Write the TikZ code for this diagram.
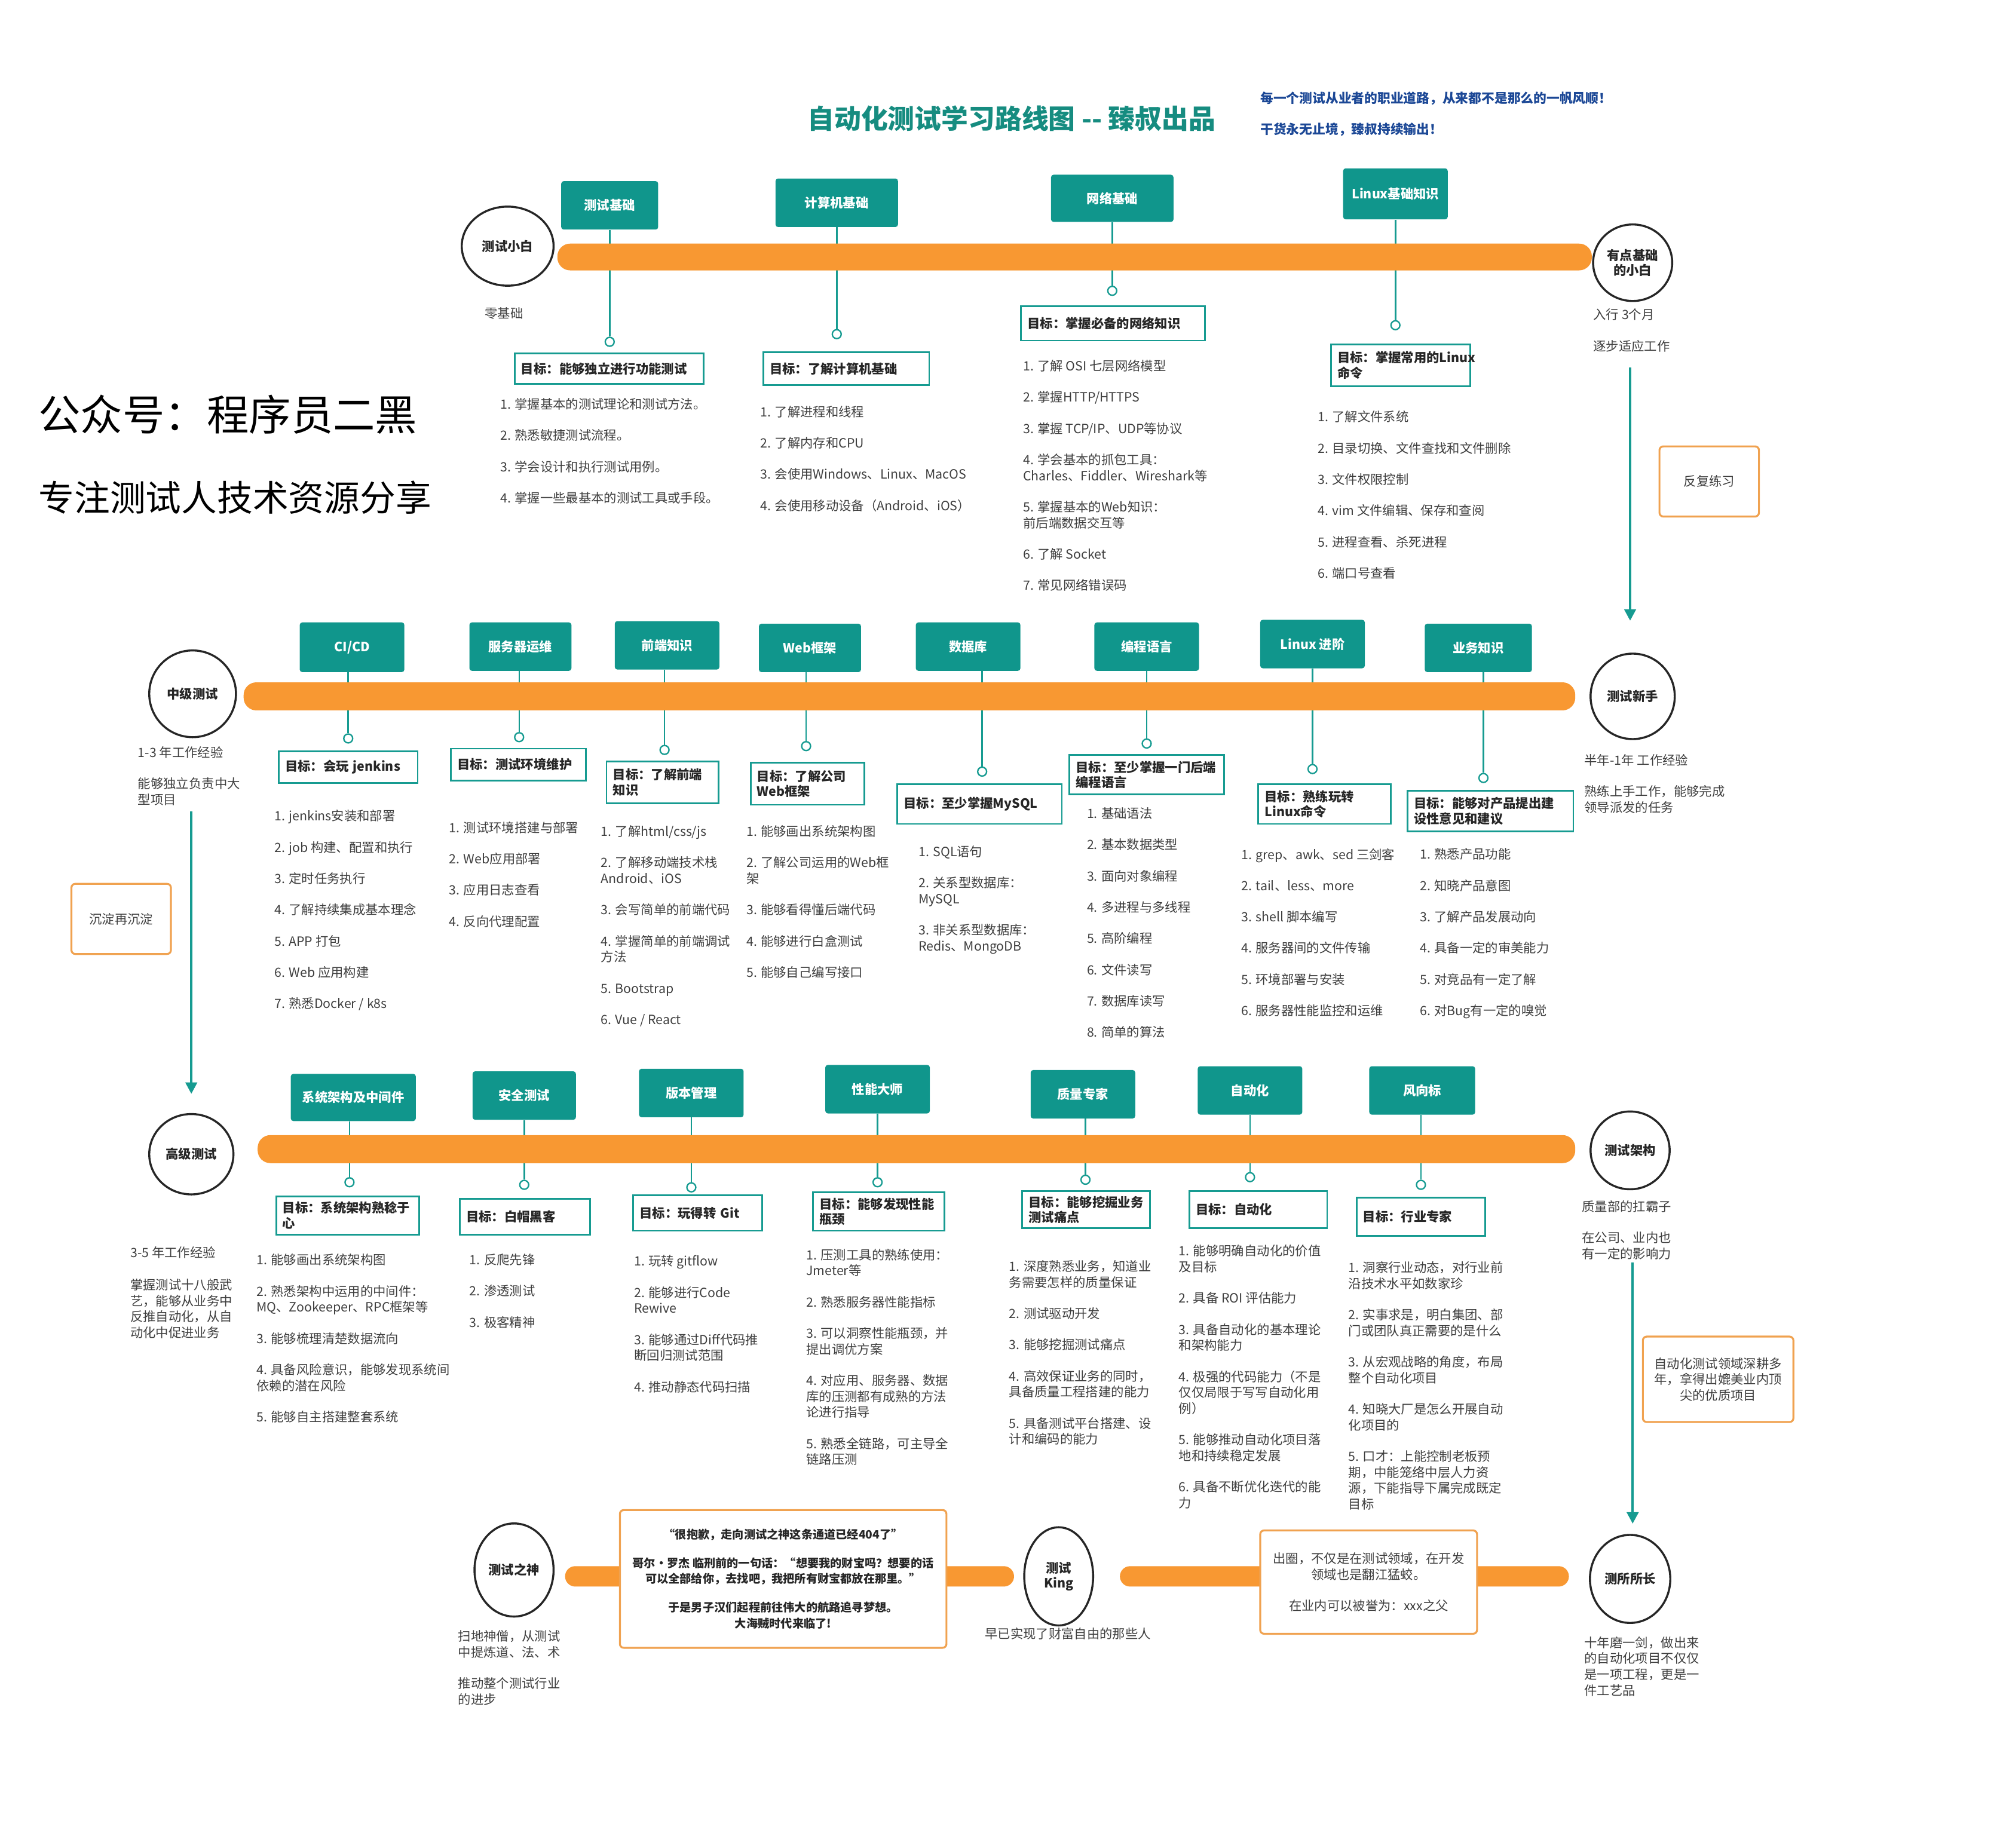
\documentclass[tikz,border=0pt]{standalone}
\usepackage{fontspec}
\setmainfont{Noto Sans CJK SC}
\usetikzlibrary{shapes.geometric,arrows.meta,calc}
\pgfdeclarelayer{background layer}
\pgfsetlayers{background layer,main}
\definecolor{tealbox}{RGB}{16,150,140}
\definecolor{tealline}{RGB}{22,155,145}
\definecolor{barorange}{RGB}{248,152,50}
\definecolor{frameorange}{RGB}{240,162,80}
\definecolor{titleteal}{RGB}{22,140,128}
\definecolor{subblue}{RGB}{28,72,150}
\definecolor{txtgray}{RGB}{62,62,62}
\definecolor{inkdark}{RGB}{38,38,38}
\tikzset{
  topic/.style={fill=tealbox,text=white,font=\bfseries\fontsize{10}{12}\selectfont,rounded corners=2pt,inner sep=0pt},
  goal/.style={draw=tealline,line width=1.3pt,fill=white,text=inkdark,font=\bfseries\fontsize{10}{12}\selectfont,align=left,inner xsep=5pt,inner ysep=2pt,text width=#1},
  stage/.style={ellipse,draw=inkdark,line width=1.6pt,fill=white,text=inkdark,font=\bfseries\fontsize{10}{12}\selectfont,align=center,inner sep=0pt},
  dot/.style={circle,draw=tealline,line width=1.1pt,fill=white,minimum size=7pt,inner sep=0pt},
  stem/.style={draw=tealline,line width=1.2pt},
  item/.style={anchor=north west,inner sep=0pt,align=left,text=txtgray,font=\fontsize{10}{12.5}\selectfont},
  memo/.style={draw=frameorange,line width=1.5pt,fill=white,rounded corners=3pt,align=center,text=txtgray,font=\fontsize{10}{12.5}\selectfont,inner sep=0pt},
  flow/.style={draw=tealline,line width=2pt,-{Triangle[length=9pt,width=9pt]}},
  bar/.style={fill=barorange,rounded corners=10pt}
}
\begin{document}
\begin{tikzpicture}[x=1pt,y=-1pt]
\useasboundingbox (0,0) rectangle (1568,1449);

% heading
\node[font=\bfseries\fontsize{21}{24}\selectfont,text=titleteal] (title) at (793,93) {自动化测试学习路线图 -{}- 臻叔出品};
\node[anchor=north west,inner sep=0pt,align=left,text=subblue,font=\bfseries\fontsize{10.2}{12}\selectfont] (motto) at (988,72)
  {每一个测试从业者的职业道路，从来都不是那么的一帆风顺！\\[12pt]干货永无止境，臻叔持续输出！};
\node[anchor=west,inner sep=0pt,font=\fontsize{33}{36}\selectfont] (wechat) at (30,325) {公众号：程序员二黑};
\node[anchor=west,inner sep=0pt,font=\fontsize{28}{32}\selectfont] (share) at (30,390) {专注测试人技术资源分享};

% orange time bars
\fill[bar] (437,191) rectangle (1248,212);
\fill[bar] (191,535) rectangle (1235,557);
\fill[bar] (202,890) rectangle (1235,912);
\fill[bar,rounded corners=8pt] (443,1228) rectangle (795,1244);
\fill[bar,rounded corners=8pt] (878,1228) rectangle (1230,1244);

% topic boxes
\foreach \n/\x/\y/\w/\h/\lbl in {
  1/478/161/76/38/测试基础, 2/656/159/96/38/计算机基础, 3/872/155.5/96/37/网络基础, 4/1094/152/82/40/Linux基础知识,
  5/276/507.5/82/39/{CI/CD}, 6/408/507/80/38/服务器运维, 7/523/506/82/38/前端知识, 8/635/508/80/38/Web框架,
  9/759/507/82/38/数据库, 10/899/507/82/38/编程语言, 11/1029/505/82/38/Linux 进阶, 12/1159/508/84/38/业务知识,
  13/277/860.5/98/37/系统架构及中间件, 14/411/859/81/38/安全测试, 15/542/857/82/38/版本管理, 16/688/854/82/38/性能大师,
  17/849/858/82/38/质量专家, 18/980/855/82/38/自动化, 19/1115/855/83/38/风向标}
  \node[topic,minimum width=\w,minimum height=\h] (t\n) at (\x,\y) {\lbl};

% goal boxes
\foreach \n/\x/\y/\w/\h/\lbl in {
  1/477.5/289/138/24/{目标：能够独立进行功能测试}, 2/663.5/289/120/26/{目标：了解计算机基础},
  3/872.5/253.5/134/27/{目标：掌握必备的网络知识}, 4/1098/286.5/99/33/{目标：掌握常用的Linux\\命令},
  5/273/601.5/99/25/{目标：会玩 jenkins}, 6/406.5/599.5/96/25/{目标：测试环境维护},
  7/519.5/613.5/78/33/{目标：了解前端\\知识}, 8/633/614.5/79/33/{目标：了解公司\\Web框架},
  9/768/630.5/119/31/{目标：至少掌握MySQL}, 10/899/607.5/111/31/{目标：至少掌握一门后端\\编程语言},
  11/1038.5/630.5/94/31/{目标：熟练玩转\\Linux命令}, 12/1168.5/636/120/32/{目标：能够对产品提出建\\设性意见和建议},
  13/272.5/953/102/30/{目标：系统架构熟稔于\\心}, 14/411.5/954/92/28/{目标：白帽黑客},
  15/547/951/91/28/{目标：玩得转 Git}, 16/689/950/93/30/{目标：能够发现性能\\瓶颈},
  17/851.5/948.5/90/29/{目标：能够挖掘业务\\测试痛点}, 18/986.5/948.5/98/29/{目标：自动化},
  19/1114/954/91/30/{目标：行业专家}}
  \node[goal=\w pt,minimum height=\h] (g\n) at (\x,\y) {\lbl};

% stems with their end rings
\foreach \n/\x/\y in {1/478/268, 2/656/262, 3/872/228, 4/1094/255,
  5/273/579, 6/407/578, 7/521/588, 8/632/585, 9/770/605, 10/899/583, 11/1029/603, 12/1163/610,
  13/274/927, 14/411/929, 15/542/931, 16/688/927, 17/851/925, 18/980/923, 19/1114/929}
{
  \node[dot] (d\n) at (\x,\y) {};
  \begin{pgfonlayer}{background layer}
    \draw[stem] (d\n) -- (d\n |- t\n.south);
  \end{pgfonlayer}
}

% item lists
\foreach \n/\x/\y/\lbl in {
  1/392/317/{1. 掌握基本的测试理论和测试方法。\\[12pt]2. 熟悉敏捷测试流程。\\[12pt]3. 学会设计和执行测试用例。\\[12pt]4. 掌握一些最基本的测试工具或手段。},
  2/596/323/{1. 了解进程和线程\\[12pt]2. 了解内存和CPU\\[12pt]3. 会使用Windows、Linux、MacOS\\[12pt]4. 会使用移动设备（Android、iOS）},
  3/802/287/{1. 了解 OSI 七层网络模型\\[12pt]2. 掌握HTTP/HTTPS\\[12pt]3. 掌握 TCP/IP、UDP等协议\\[12pt]4. 学会基本的抓包工具：\\Charles、Fiddler、Wireshark等\\[12pt]5. 掌握基本的Web知识：\\前后端数据交互等\\[12pt]6. 了解 Socket\\[12pt]7. 常见网络错误码},
  4/1033/327/{1. 了解文件系统\\[12pt]2. 目录切换、文件查找和文件删除\\[12pt]3. 文件权限控制\\[12pt]4. vim 文件编辑、保存和查阅\\[12pt]5. 进程查看、杀死进程\\[12pt]6. 端口号查看},
  5/215/640/{1. jenkins安装和部署\\[12pt]2. job 构建、配置和执行\\[12pt]3. 定时任务执行\\[12pt]4. 了解持续集成基本理念\\[12pt]5. APP 打包\\[12pt]6. Web 应用构建\\[12pt]7. 熟悉Docker / k8s},
  6/352/649/{1. 测试环境搭建与部署\\[12pt]2. Web应用部署\\[12pt]3. 应用日志查看\\[12pt]4. 反向代理配置},
  7/471/652/{1. 了解html/css/js\\[12pt]2. 了解移动端技术栈\\Android、iOS\\[12pt]3. 会写简单的前端代码\\[12pt]4. 掌握简单的前端调试\\方法\\[12pt]5. Bootstrap\\[12pt]6. Vue / React},
  8/585/652/{1. 能够画出系统架构图\\[12pt]2. 了解公司运用的Web框\\架\\[12pt]3. 能够看得懂后端代码\\[12pt]4. 能够进行白盒测试\\[12pt]5. 能够自己编写接口},
  9/720/668/{1. SQL语句\\[12pt]2. 关系型数据库：\\MySQL\\[12pt]3. 非关系型数据库：\\Redis、MongoDB},
  10/852/638/{1. 基础语法\\[12pt]2. 基本数据类型\\[12pt]3. 面向对象编程\\[12pt]4. 多进程与多线程\\[12pt]5. 高阶编程\\[12pt]6. 文件读写\\[12pt]7. 数据库读写\\[12pt]8. 简单的算法},
  11/973/670/{1. grep、awk、sed 三剑客\\[12pt]2. tail、less、more\\[12pt]3. shell 脚本编写\\[12pt]4. 服务器间的文件传输\\[12pt]5. 环境部署与安装\\[12pt]6. 服务器性能监控和运维},
  12/1113/670/{1. 熟悉产品功能\\[12pt]2. 知晓产品意图\\[12pt]3. 了解产品发展动向\\[12pt]4. 具备一定的审美能力\\[12pt]5. 对竞品有一定了解\\[12pt]6. 对Bug有一定的嗅觉},
  13/201/988/{1. 能够画出系统架构图\\[12pt]2. 熟悉架构中运用的中间件：\\MQ、Zookeeper、RPC框架等\\[12pt]3. 能够梳理清楚数据流向\\[12pt]4. 具备风险意识，能够发现系统间\\依赖的潜在风险\\[12pt]5. 能够自主搭建整套系统},
  14/368/988/{1. 反爬先锋\\[12pt]2. 渗透测试\\[12pt]3. 极客精神},
  15/497/989/{1. 玩转 gitflow\\[12pt]2. 能够进行Code\\Rewive\\[12pt]3. 能够通过Diff代码推\\断回归测试范围\\[12pt]4. 推动静态代码扫描},
  16/632/984/{1. 压测工具的熟练使用：\\Jmeter等\\[12pt]2. 熟悉服务器性能指标\\[12pt]3. 可以洞察性能瓶颈，并\\提出调优方案\\[12pt]4. 对应用、服务器、数据\\库的压测都有成熟的方法\\论进行指导\\[12pt]5. 熟悉全链路，可主导全\\链路压测},
  17/791/993/{1. 深度熟悉业务，知道业\\务需要怎样的质量保证\\[12pt]2. 测试驱动开发\\[12pt]3. 能够挖掘测试痛点\\[12pt]4. 高效保证业务的同时，\\具备质量工程搭建的能力\\[12pt]5. 具备测试平台搭建、设\\计和编码的能力},
  18/924/981/{1. 能够明确自动化的价值\\及目标\\[12pt]2. 具备 ROI 评估能力\\[12pt]3. 具备自动化的基本理论\\和架构能力\\[12pt]4. 极强的代码能力（不是\\仅仅局限于写写自动化用\\例）\\[12pt]5. 能够推动自动化项目落\\地和持续稳定发展\\[12pt]6. 具备不断优化迭代的能\\力},
  19/1057/994/{1. 洞察行业动态，对行业前\\沿技术水平如数家珍\\[12pt]2. 实事求是，明白集团、部\\门或团队真正需要的是什么\\[12pt]3. 从宏观战略的角度，布局\\整个自动化项目\\[12pt]4. 知晓大厂是怎么开展自动\\化项目的\\[12pt]5. 口才：上能控制老板预\\期，中能笼络中层人力资\\源，下能指导下属完成既定\\目标}}
  \node[item] (l\n) at (\x,\y-5) {\lbl};

% career stages
\node[stage,minimum width=72,minimum height=62] (s1) at (398,193) {测试小白};
\node[stage,minimum width=62,minimum height=60] (s2) at (1280,206) {有点基础\\的小白};
\node[stage,minimum width=68,minimum height=68] (s3) at (151,544) {中级测试};
\node[stage,minimum width=66,minimum height=67] (s4) at (1280,546) {测试新手};
\node[stage,minimum width=66,minimum height=63] (s5) at (150,905) {高级测试};
\node[stage,minimum width=62,minimum height=61] (s6) at (1278,902) {测试架构};
\node[stage,minimum width=62,minimum height=73] (s7) at (403,1231) {测试之神};
\node[stage,minimum width=54,minimum height=77] (s8) at (830,1236) {测试\\King};
\node[stage,minimum width=63,minimum height=69] (s9) at (1278,1238) {测所所长};

% stage notes
\node[item] (n1) at (380,241) {零基础};
\node[item] (n2) at (1249,242) {入行 3个月\\[12pt]逐步适应工作};
\node[item] (n3) at (108,585) {1-3 年工作经验\\[12pt]能够独立负责中大\\型项目};
\node[item] (n4) at (1242,591) {半年-1年 工作经验\\[12pt]熟练上手工作，能够完成\\领导派发的任务};
\node[item] (n5) at (102,977) {3-5 年工作经验\\[13pt]掌握测试十八般武\\艺，能够从业务中\\反推自动化，从自\\动化中促进业务};
\node[item] (n6) at (1240,941) {质量部的扛霸子\\[12pt]在公司、业内也\\有一定的影响力};
\node[item] (n7) at (359,1278) {扫地神僧，从测试\\中提炼道、法、术\\[12pt]推动整个测试行业\\的进步};
\node[item] (n8) at (772,1276) {早已实现了财富自由的那些人};
\node[item] (n9) at (1242,1283) {十年磨一剑，做出来\\的自动化项目不仅仅\\是一项工程，更是一\\件工艺品};

% orange memo boxes
\node[memo,minimum width=78,minimum height=55] (o1) at (1340,377.5) {反复练习};
\node[memo,minimum width=78,minimum height=55] (o2) at (95,720.5) {沉淀再沉淀};
\node[memo,minimum width=118,minimum height=67] (o3) at (1347,1081.5) {自动化测试领域深耕多\\年，拿得出媲美业内顶\\尖的优质项目};
\node[memo,minimum width=256,minimum height=108,text=inkdark,font=\bfseries\fontsize{9}{12.5}\selectfont] (o4) at (614,1238)
  {“很抱歉，走向测试之神这条通道已经404了”\\[10pt]哥尔·罗杰 临刑前的一句话：“想要我的财宝吗？想要的话\\可以全部给你，去找吧，我把所有财宝都放在那里。”\\[10pt]于是男子汉们起程前往伟大的航路追寻梦想。\\大海贼时代来临了!};
\node[memo,minimum width=170,minimum height=81] (o5) at (1073,1240.5)
  {出圈，不仅是在测试领域，在开发\\领域也是翻江猛蛟。\\[12pt]在业内可以被誉为：xxx之父};

% level-up arrows
\coordinate (f1) at (1278,288);
\coordinate (f2) at (150,636);
\coordinate (f3) at (1280,990);
\draw[flow,shorten >=25pt] (f1) -- (f1 |- s4.north);
\draw[flow,shorten >=15pt] (f2) -- (f2 |- s5.north);
\draw[flow,shorten >=8pt] (f3) -- (f3 |- s9.north);
\end{tikzpicture}
\end{document}
